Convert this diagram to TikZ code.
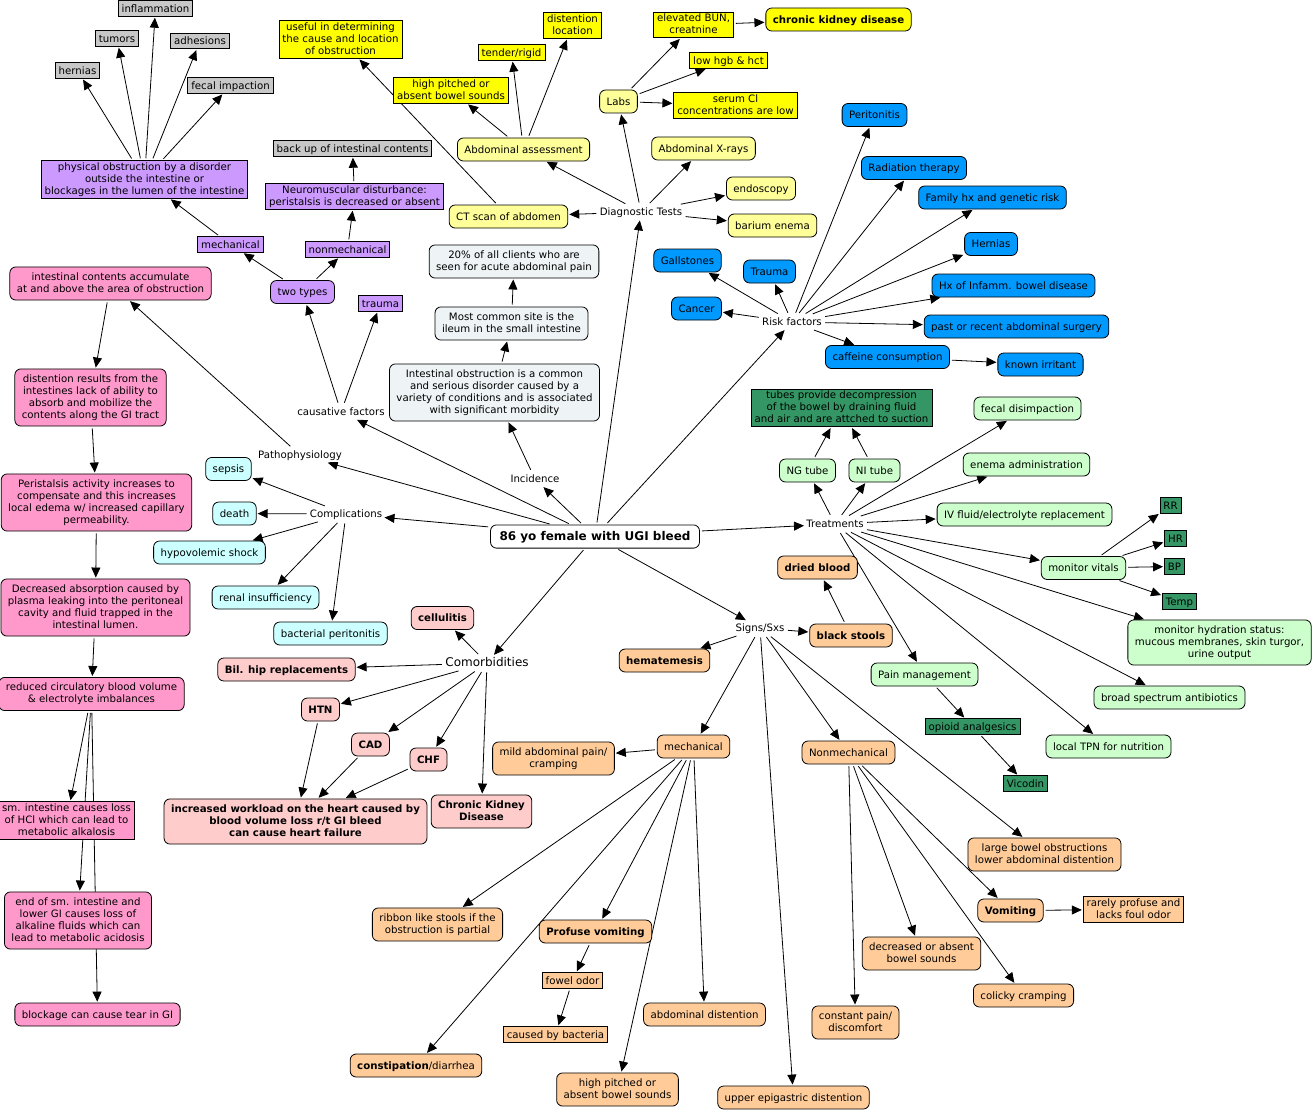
\documentclass[tikz,border=0pt]{standalone}
\usepackage{fontspec}
\setmainfont{DejaVu Sans}
\usetikzlibrary{arrows.meta,backgrounds}
\definecolor{cgray}{RGB}{200,200,200}
\definecolor{cpurple}{RGB}{204,153,255}
\definecolor{cyellow}{RGB}{255,255,0}
\definecolor{clyellow}{RGB}{255,255,153}
\definecolor{cblue}{RGB}{0,153,255}
\definecolor{cpale}{RGB}{238,243,245}
\definecolor{cpink}{RGB}{255,153,204}
\definecolor{ccyan}{RGB}{204,255,255}
\definecolor{clpink}{RGB}{255,204,204}
\definecolor{corange}{RGB}{255,204,153}
\definecolor{cgreen}{RGB}{204,255,204}
\definecolor{cdgreen}{RGB}{51,150,100}
\newcommand{\mapfont}{\fontsize{10.2}{12}\selectfont}
\newcommand{\mapstrut}{\rule[-2.4pt]{0pt}{12pt}}

\begin{document}
\begin{tikzpicture}
  [x=1pt,y=-1pt,
   every node/.style={font=\mapfont,align=center,line width=0.8pt,
     execute at begin node=\mapstrut,execute at end node=\mapstrut},
   sq/.style={draw,rectangle,inner xsep=3.5pt,inner ysep=1.8pt},
   rnd/.style={draw,rounded corners=6pt,inner xsep=7pt,inner ysep=5.5pt},
   heavy/.style={font=\mapfont\bfseries},
   phrase/.style={fill=white,inner sep=1pt},
   grayc/.style={sq,fill=cgray},
   purp/.style={sq,fill=cpurple},
   yel/.style={sq,fill=cyellow},
   lyel/.style={rnd,fill=clyellow},
   blu/.style={rnd,fill=cblue},
   pale/.style={rnd,fill=cpale},
   pnk/.style={rnd,fill=cpink},
   cyn/.style={rnd,fill=ccyan},
   lpnk/.style={rnd,fill=clpink,heavy},
   org/.style={rnd,fill=corange},
   grn/.style={rnd,fill=cgreen},
   dgrn/.style={sq,fill=cdgreen},
   arr/.style={-{Triangle[length=10pt,width=9pt]},line width=0.8pt,
     shorten >=1pt,shorten <=2pt}]
  \useasboundingbox (0,0) rectangle (1314,1113);

  % centre
  \node[rnd,fill=white,font=\fontsize{12}{14}\selectfont\bfseries,inner xsep=9pt] (main) at (595,536.5) {86 yo female with UGI bleed};

  % pathophysiology and causes
  \node[grayc] (infl) at (155.5,8.5) {inflammation};
  \node[grayc] (tumors) at (117,38.5) {tumors};
  \node[grayc] (adhes) at (200,41) {adhesions};
  \node[grayc] (hernias) at (77.5,70.5) {hernias};
  \node[grayc] (fecal) at (230.5,85.5) {fecal impaction};
  \node[grayc] (backup) at (352.5,148.5) {back up of intestinal contents};
  \node[purp] (phys) at (144.5,179.5) {physical obstruction by a disorder\\outside the intestine or\\blockages in the lumen of the intestine};
  \node[purp] (neuro) at (354.5,196.5) {Neuromuscular disturbance:\\peristalsis is decreased or absent};
  \node[purp] (mech) at (230.5,244.5) {mechanical};
  \node[purp] (nonmech) at (347.5,249.5) {nonmechanical};
  \node[rnd,fill=cpurple] (twotypes) at (302.5,292) {two types};
  \node[purp] (trauma) at (380.5,303.5) {trauma};
  \node[phrase] (causat) at (341,412) {causative factors};
  \node[phrase] (patho) at (300,455) {Pathophysiology};
  \node[pnk] (accum) at (110.5,283.5) {intestinal contents accumulate\\at and above the area of obstruction};
  \node[pnk] (distres) at (90.5,397.5) {distention results from the\\intestines lack of ability to\\absorb and mobilize the\\contents along the GI tract};
  \node[pnk] (peri) at (96.5,502.5) {Peristalsis activity increases to\\compensate and this increases\\local edema w/ increased capillary\\permeability.};
  \node[pnk] (decabs) at (95.5,607.5) {Decreased absorption caused by\\plasma leaking into the peritoneal\\cavity and fluid trapped in the\\intestinal lumen.};
  \node[pnk] (reduced) at (91.5,694) {reduced circulatory blood volume\\\& electrolyte imbalances};
  \node[sq,fill=cpink] (smint) at (66.5,820.5) {sm. intestine causes loss\\of HCl which can lead to\\metabolic alkalosis};
  \node[pnk] (endsm) at (78,920.5) {end of sm. intestine and\\lower GI causes loss of\\alkaline fluids which can\\lead to metabolic acidosis};
  \node[pnk] (tear) at (97.5,1014.5) {blockage can cause tear in GI};

  % complications and comorbidities
  \node[phrase] (compl) at (346,514) {Complications};
  \node[cyn] (sepsis) at (228.5,469) {sepsis};
  \node[cyn] (death) at (234.5,513.5) {death};
  \node[cyn] (hypo) at (209.5,552.5) {hypovolemic shock};
  \node[cyn] (renal) at (265.5,597.5) {renal insufficiency};
  \node[cyn] (bacper) at (330.5,633.5) {bacterial peritonitis};
  \node[phrase,font=\fontsize{12}{14}\selectfont] (comorb) at (487,663) {Comorbidities};
  \node[lpnk] (cellul) at (442.5,618) {cellulitis};
  \node[lpnk] (hip) at (286.5,669.5) {Bil. hip replacements};
  \node[lpnk] (htn) at (320.5,709.5) {HTN};
  \node[lpnk] (cad) at (370.5,744.5) {CAD};
  \node[lpnk] (chf) at (428.5,759.5) {CHF};
  \node[lpnk] (workload) at (295.5,821.5) {increased workload on the heart caused by\\blood volume loss r/t GI bleed\\can cause heart failure};
  \node[lpnk] (ckdb) at (481.5,811.5) {Chronic Kidney\\Disease};

  % incidence
  \node[phrase] (incid) at (535,479) {Incidence};
  \node[pale] (intob) at (494.5,392.5) {Intestinal obstruction is a common\\and serious disorder caused by a\\variety of conditions and is associated\\with significant morbidity};
  \node[pale] (site) at (511.5,323.5) {Most common site is the\\ileum in the small intestine};
  \node[pale] (pct) at (514,261.5) {20\% of all clients who are\\seen for acute abdominal pain};

  % diagnostic tests
  \node[phrase] (diag) at (641,212) {Diagnostic Tests};
  \node[yel] (useful) at (340.5,39.5) {useful in determining\\the cause and location\\of obstruction};
  \node[yel] (hipitch) at (451,90.5) {high pitched or\\absent bowel sounds};
  \node[yel] (tender) at (511.5,52.5) {tender/rigid};
  \node[yel] (distloc) at (572.5,25.5) {distention\\location};
  \node[lyel] (abdass) at (523.5,149.5) {Abdominal assessment};
  \node[lyel] (ctscan) at (508.5,216.5) {CT scan of abdomen};
  \node[lyel] (labs) at (618.5,101.5) {Labs};
  \node[yel] (bun) at (693.5,25) {elevated BUN,\\creatnine};
  \node[rnd,fill=cyellow,heavy] (ckd) at (838.5,19.5) {chronic kidney disease};
  \node[yel] (hgb) at (728.5,60.5) {low hgb \& hct};
  \node[yel] (serum) at (735.5,105.5) {serum Cl\\concentrations are low};
  \node[lyel] (xrays) at (703.5,148.5) {Abdominal X-rays};
  \node[lyel] (endo) at (761,188.5) {endoscopy};
  \node[lyel] (barium) at (772.5,225.5) {barium enema};

  % risk factors
  \node[phrase] (risk) at (792,322) {Risk factors};
  \node[blu] (perit) at (874.5,115) {Peritonitis};
  \node[blu] (radiat) at (914,168) {Radiation therapy};
  \node[blu] (family) at (992.5,197.5) {Family hx and genetic risk};
  \node[blu] (herniasb) at (991,244) {Hernias};
  \node[blu] (ibd) at (1013.5,285.5) {Hx of Infamm. bowel disease};
  \node[blu] (surgery) at (1016.5,326.5) {past or recent abdominal surgery};
  \node[blu] (caffeine) at (887.5,357) {caffeine consumption};
  \node[blu] (irritant) at (1040.5,364.5) {known irritant};
  \node[blu] (gall) at (687.5,260.5) {Gallstones};
  \node[blu] (traumab) at (769.5,271.5) {Trauma};
  \node[blu] (cancer) at (696.5,308.5) {Cancer};

  % treatments
  \node[phrase] (treat) at (835,524) {Treatments};
  \node[dgrn] (tubes) at (841.5,408) {tubes provide decompression\\of the bowel by draining fluid\\and air and are attched to suction};
  \node[grn] (ngtube) at (807.5,470.5) {NG tube};
  \node[grn] (nitube) at (874.5,470.5) {NI tube};
  \node[grn] (fecald) at (1027.5,408.5) {fecal disimpaction};
  \node[grn] (enema) at (1026.5,464.5) {enema administration};
  \node[grn] (ivfluid) at (1024.5,514.5) {IV fluid/electrolyte replacement};
  \node[grn] (vitals) at (1083.5,568) {monitor vitals};
  \node[dgrn] (rr) at (1170.5,505.5) {RR};
  \node[dgrn] (hr) at (1175.5,538.5) {HR};
  \node[dgrn] (bp) at (1174.5,566.5) {BP};
  \node[dgrn] (temp) at (1179.5,601.5) {Temp};
  \node[grn] (hydrat) at (1219.5,642.5) {monitor hydration status:\\mucous membranes, skin turgor,\\urine output};
  \node[grn] (antib) at (1169.5,697.5) {broad spectrum antibiotics};
  \node[grn] (tpn) at (1108.5,746.5) {local TPN for nutrition};
  \node[grn] (pain) at (924.5,674.5) {Pain management};
  \node[dgrn] (opioid) at (972.5,726.5) {opioid analgesics};
  \node[dgrn] (vicodin) at (1025.5,783.5) {Vicodin};

  % signs and symptoms
  \node[phrase] (signs) at (760,628) {Signs/Sxs};
  \node[org,heavy] (dried) at (817.5,567.5) {dried blood};
  \node[org,heavy] (black) at (851,635.5) {black stools};
  \node[org,heavy] (hemat) at (664.5,660.5) {hematemesis};
  \node[org] (mechs) at (693.5,746.5) {mechanical};
  \node[org] (mild) at (553.5,758.5) {mild abdominal pain/\\cramping};
  \node[org] (nonmechs) at (848.5,752.5) {Nonmechanical};
  \node[org] (ribbon) at (437.5,924.5) {ribbon like stools if the\\obstruction is partial};
  \node[org,heavy] (profuse) at (595.5,931.5) {Profuse vomiting};
  \node[sq,fill=corange] (fowel) at (572.5,980.5) {fowel odor};
  \node[sq,fill=corange] (bact) at (555.5,1034.5) {caused by bacteria};
  \node[org] (abdist) at (704.5,1014.5) {abdominal distention};
  \node[org] (constip) at (416,1065.5) {{\bfseries constipation}/diarrhea};
  \node[org] (hipitchs) at (617.5,1089.5) {high pitched or\\absent bowel sounds};
  \node[org] (epig) at (793.5,1097.5) {upper epigastric distention};
  \node[org] (largeb) at (1044.5,854.5) {large bowel obstructions\\lower abdominal distention};
  \node[org,heavy] (vomit) at (1010.5,910.5) {Vomiting};
  \node[sq,fill=corange] (rarely) at (1133.5,909.5) {rarely profuse and\\lacks foul odor};
  \node[org] (decbs) at (921.5,953.5) {decreased or absent\\bowel sounds};
  \node[org] (colicky) at (1023.5,995.5) {colicky cramping};
  \node[org] (constpain) at (855.5,1022.5) {constant pain/\\discomfort};

  \begin{pgfonlayer}{background}
  \fill[white] (0,0) rectangle (1314,1113);
  \foreach \from/\to in {main/patho,main/causat,main/compl,main/incid,main/diag,
      main/risk,main/treat,main/signs,main/comorb,
      patho/accum,accum/distres,distres/peri,peri/decabs,decabs/reduced,
      reduced/smint,reduced/endsm,reduced/tear,
      causat/twotypes,causat/trauma,twotypes/mech,twotypes/nonmech,
      mech/phys,nonmech/neuro,neuro/backup,
      phys/hernias,phys/tumors,phys/infl,phys/adhes,phys/fecal,
      compl/sepsis,compl/death,compl/hypo,compl/renal,compl/bacper,
      comorb/cellul,comorb/hip,comorb/htn,comorb/cad,comorb/chf,comorb/ckdb,
      htn/workload,cad/workload,chf/workload,
      incid/intob,intob/site,site/pct,
      diag/ctscan,diag/abdass,diag/labs,diag/xrays,diag/endo,diag/barium,
      abdass/hipitch,abdass/tender,abdass/distloc,ctscan/useful,
      labs/bun,labs/hgb,labs/serum,bun/ckd,
      risk/gall,risk/traumab,risk/cancer,risk/perit,risk/radiat,risk/family,
      risk/herniasb,risk/ibd,risk/surgery,risk/caffeine,caffeine/irritant,
      treat/ngtube,treat/nitube,treat/fecald,treat/enema,treat/ivfluid,
      treat/vitals,treat/hydrat,treat/antib,treat/tpn,treat/pain,
      ngtube/tubes,nitube/tubes,vitals/rr,vitals/hr,vitals/bp,vitals/temp,
      pain/opioid,opioid/vicodin,
      signs/black,signs/hemat,signs/mechs,signs/nonmechs,signs/epig,signs/largeb,
      black/dried,mechs/mild,mechs/ribbon,mechs/profuse,mechs/constip,
      mechs/hipitchs,mechs/abdist,profuse/fowel,fowel/bact,
      nonmechs/constpain,nonmechs/decbs,nonmechs/colicky,nonmechs/vomit,
      vomit/rarely}
    \draw[arr] (\from) -- (\to);
  \end{pgfonlayer}
\end{tikzpicture}
\end{document}
